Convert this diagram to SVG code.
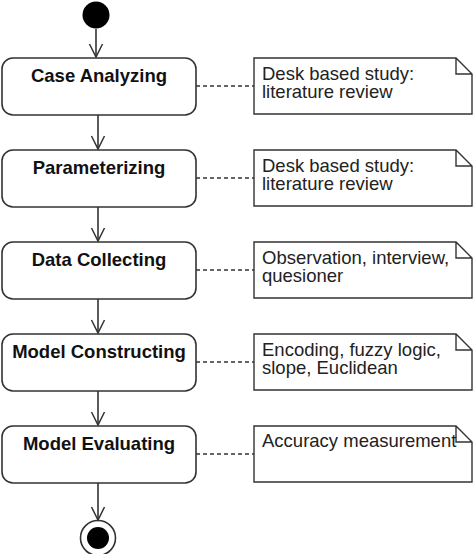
<svg xmlns="http://www.w3.org/2000/svg" width="474" height="554" viewBox="0 0 474 554">
  <defs>
    <style>
      .act { fill: #ffffff; stroke: #333333; stroke-width: 1.6; }
      .albl { font-family: "Liberation Sans", Arial, sans-serif; font-weight: bold; font-size: 18.5px; fill: #111111; text-anchor: middle; }
      .note { fill: #ffffff; stroke: #333333; stroke-width: 1.4; stroke-linejoin: miter; }
      .ntxt { font-family: "Liberation Sans", Arial, sans-serif; font-size: 18.5px; fill: #222222; }
      .flow { fill: none; stroke: #333333; stroke-width: 1.6; }
      .dash { fill: none; stroke: #333333; stroke-width: 1.4; stroke-dasharray: 4 3; }
    </style>
    <marker id="open" markerUnits="userSpaceOnUse" markerWidth="18" markerHeight="18" viewBox="-15 -9 18 18" refX="0" refY="0" orient="auto">
      <path d="M -13 -6.5 L 0 0 L -13 6.5" fill="none" stroke="#333333" stroke-width="1.5"/>
    </marker>
  </defs>

  <g id="start">
    <circle cx="96" cy="15" r="13.5" fill="#000000"/>
  </g>

  <g id="case-analyzing">
    <rect class="act" x="2" y="58" width="194" height="57" rx="11"/>
    <text class="albl" x="99" y="82">Case Analyzing</text>
  </g>
  <g id="parameterizing">
    <rect class="act" x="2" y="150" width="194" height="57" rx="11"/>
    <text class="albl" x="99" y="174">Parameterizing</text>
  </g>
  <g id="data-collecting">
    <rect class="act" x="2" y="242" width="194" height="57" rx="11"/>
    <text class="albl" x="99" y="266">Data Collecting</text>
  </g>
  <g id="model-constructing">
    <rect class="act" x="2" y="334" width="194" height="57" rx="11"/>
    <text class="albl" x="99" y="358">Model Constructing</text>
  </g>
  <g id="model-evaluating">
    <rect class="act" x="2" y="426" width="194" height="57" rx="11"/>
    <text class="albl" x="99" y="450">Model Evaluating</text>
  </g>

  <g id="note-1">
    <path class="note" d="M254 58 H456 L472 74 V114 H254 Z M456 58 V74 H472"/>
    <text class="ntxt" x="262" y="80">Desk based study:</text>
    <text class="ntxt" x="262" y="98">literature review</text>
  </g>
  <g id="note-2">
    <path class="note" d="M254 150 H456 L472 166 V206 H254 Z M456 150 V166 H472"/>
    <text class="ntxt" x="262" y="172">Desk based study:</text>
    <text class="ntxt" x="262" y="190">literature review</text>
  </g>
  <g id="note-3">
    <path class="note" d="M254 242 H456 L472 258 V298 H254 Z M456 242 V258 H472"/>
    <text class="ntxt" x="262" y="264">Observation, interview,</text>
    <text class="ntxt" x="262" y="282">quesioner</text>
  </g>
  <g id="note-4">
    <path class="note" d="M254 334 H456 L472 350 V390 H254 Z M456 334 V350 H472"/>
    <text class="ntxt" x="262" y="356">Encoding, fuzzy logic,</text>
    <text class="ntxt" x="262" y="374">slope, Euclidean</text>
  </g>
  <g id="note-5">
    <path class="note" d="M254 426 H456 L472 442 V482 H254 Z M456 426 V442 H472"/>
    <text class="ntxt" x="262" y="447">Accuracy measurement</text>
  </g>

  <g id="end">
    <circle cx="98" cy="538" r="17.5" fill="#ffffff" stroke="#333333" stroke-width="1.6"/>
    <circle cx="98" cy="538" r="11" fill="#000000"/>
  </g>

  <g id="connectors">
    <path class="flow" d="M96 29 V57" marker-end="url(#open)"/>
    <path class="flow" d="M98 115 V149" marker-end="url(#open)"/>
    <path class="flow" d="M98 207 V241" marker-end="url(#open)"/>
    <path class="flow" d="M98 299 V333" marker-end="url(#open)"/>
    <path class="flow" d="M98 391 V425" marker-end="url(#open)"/>
    <path class="flow" d="M98 483 V520" marker-end="url(#open)"/>
    <path class="dash" d="M196 86 H254"/>
    <path class="dash" d="M196 178 H254"/>
    <path class="dash" d="M196 270 H254"/>
    <path class="dash" d="M196 362 H254"/>
    <path class="dash" d="M196 454 H254"/>
  </g>
</svg>
